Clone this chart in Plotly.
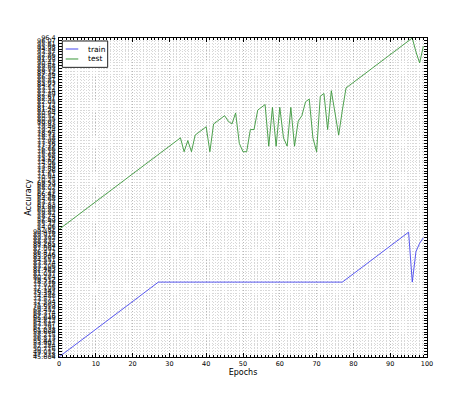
import plotly.graph_objects as go

epochs = list(range(100))

train_acc = [
    "45.604", "47.318", "49.052", "50.716", "52.284", "53.902", "55.447", "56.873", "58.215", "59.664",
    "61.038", "62.291", "63.587", "64.812", "66.049", "67.216", "68.374", "69.452", "70.518", "71.603",
    "72.594", "73.571", "74.488", "75.392", "76.247", "77.105", "77.918", "78.736", "78.736", "78.736",
    "78.736", "78.736", "78.736", "78.736", "78.736", "78.736", "78.736", "78.736", "78.736", "78.736",
    "78.736", "78.736", "78.736", "78.736", "78.736", "78.736", "78.736", "78.736", "78.736", "78.736",
    "78.736", "78.736", "78.736", "78.736", "78.736", "78.736", "78.736", "78.736", "78.736", "78.736",
    "78.736", "78.736", "78.736", "78.736", "78.736", "78.736", "78.736", "78.736", "78.736", "78.736",
    "78.736", "78.736", "78.736", "78.736", "78.736", "78.736", "78.736", "78.736", "79.512", "80.284",
    "81.037", "81.762", "82.493", "83.206", "83.874", "84.551", "85.203", "85.846", "86.472", "87.091",
    "87.684", "88.265", "88.837", "89.392", "89.918", "90.436", "78.736", "86.472", "88.265", "89.392",
]

test_acc = [
    "52.81", "54.06", "55.32", "56.49", "57.63", "58.74", "59.82", "60.85", "61.86", "62.83",
    "63.77", "64.68", "65.56", "66.41", "67.23", "68.02", "68.79", "69.53", "70.25", "70.94",
    "71.61", "72.26", "72.88", "73.48", "74.06", "74.62", "75.16", "75.68", "76.18", "76.66",
    "77.12", "77.56", "77.98", "78.38", "76.18", "77.98", "76.18", "78.71", "78.95", "79.24",
    "79.46", "76.18", "79.83", "80.07", "80.35", "80.52", "80.07", "79.83", "80.94", "77.56",
    "76.18", "76.18", "79.24", "79.24", "81.26", "81.43", "81.72", "77.12", "81.43", "77.12",
    "81.43", "78.38", "77.12", "81.43", "77.12", "80.07", "80.52", "82.05", "82.31", "78.38",
    "76.18", "82.67", "82.89", "79.24", "83.14", "80.94", "78.71", "81.26", "83.52", "84.27",
    "85.03", "85.81", "86.54", "87.36", "88.12", "88.93", "89.68", "90.41", "91.25", "92.03",
    "92.86", "93.57", "94.32", "95.08", "95.61", "96.07", "96.4", "93.57", "90.41", "95.08",
]

series_names = ["train", "test"]
series_colors = ["#4646ee", "#3a963a"]

categories = list(dict.fromkeys(train_acc + test_acc))

FONT = "DejaVu Sans"

fig = go.Figure()
for name, vals, col in zip(series_names, [train_acc, test_acc], series_colors):
    fig.add_trace(go.Scatter(x=epochs, y=vals, mode="lines", name=name,
                             line=dict(color=col, width=0.9), showlegend=False))

# legend box drawn in paper coordinates (matplotlib-style compact legend)
fig.add_shape(type="rect", xref="paper", yref="paper",
              x0=0.009, x1=0.1323, y0=0.908, y1=0.9906,
              line=dict(color="#222222", width=1), fillcolor="white", layer="above")
for i, (name, col) in enumerate(zip(series_names, series_colors)):
    yk = 0.9655 - i * 0.0313
    fig.add_shape(type="line", xref="paper", yref="paper",
                  x0=0.0182, x1=0.0524, y0=yk, y1=yk,
                  line=dict(color=col, width=1), layer="above")
    fig.add_annotation(xref="paper", yref="paper", x=0.073, y=yk,
                       text=name, showarrow=False, xanchor="left", yanchor="middle",
                       font=dict(size=7.5, family=FONT, color="black"))

fig.update_layout(
    width=474, height=398,
    margin=dict(l=59, r=47, t=38, b=41),
    paper_bgcolor="white", plot_bgcolor="white",
    font=dict(family=FONT, color="black", size=7),
    showlegend=False,
)

fig.update_xaxes(
    range=[0, 100], tickmode="linear", tick0=0, dtick=10,
    ticks="inside", ticklen=4, tickcolor="black", mirror="ticks",
    showline=True, linecolor="black", linewidth=1,
    showgrid=True, gridcolor="#b8b8b8", griddash="1px,2px", gridwidth=1,
    minor=dict(dtick=1, showgrid=True, gridcolor="#d8d8d8", griddash="1px,2px",
               gridwidth=1, ticks="inside", ticklen=2, tickcolor="black"),
    tickfont=dict(size=6.5), zeroline=False,
    title=dict(text="Epochs", font=dict(size=8), standoff=2),
)

fig.update_yaxes(
    type="category", categoryorder="array", categoryarray=categories,
    range=[0, len(categories) - 1], tickmode="linear", tick0=0, dtick=1,
    ticks="inside", ticklen=3, tickcolor="black", mirror="ticks",
    showline=True, linecolor="black", linewidth=1,
    showgrid=True, gridcolor="#d8d8d8", griddash="1px,2px", gridwidth=1,
    tickfont=dict(size=6.5, color="#111111"), ticklabelstandoff=1, zeroline=False,
    title=dict(text="Accuracy", font=dict(size=8), standoff=0),
)

fig.write_html("out.html")
